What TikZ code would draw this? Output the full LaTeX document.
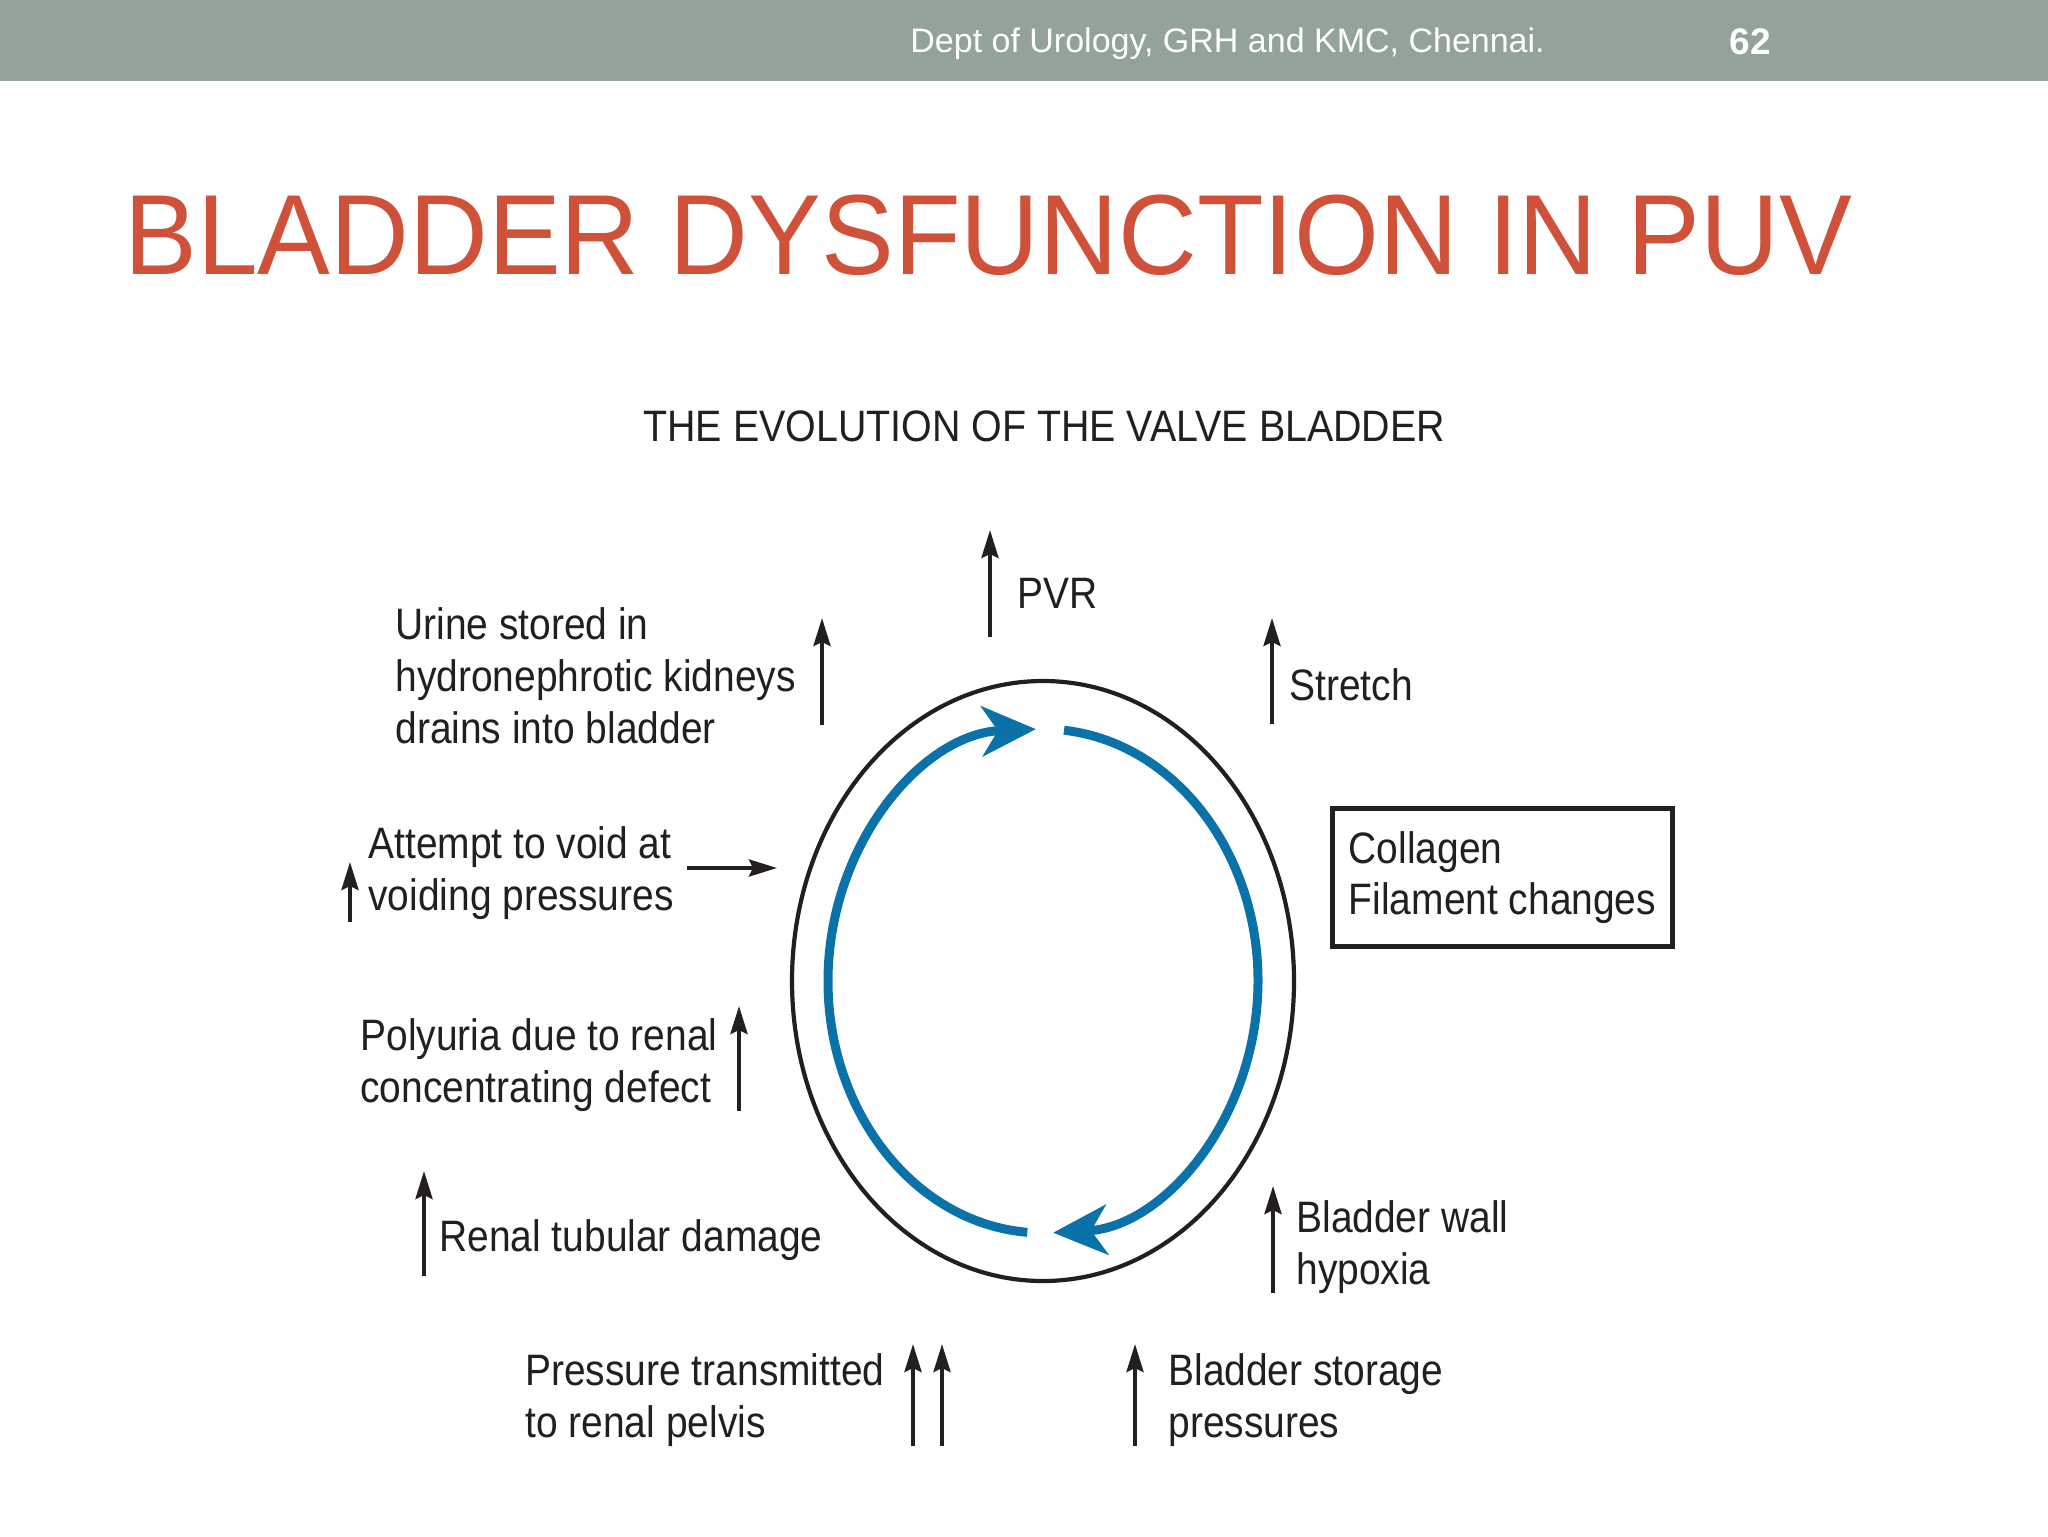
\documentclass[tikz,border=0pt]{standalone}
\usepackage{fontspec}
\setmainfont{Liberation Sans}
\newfontfamily\condfont[FakeStretch=0.885]{Liberation Sans}
\newfontfamily\subfont[FakeStretch=0.895]{Liberation Sans}
\newfontfamily\titlefont[FakeStretch=0.957]{Liberation Sans}
\usetikzlibrary{arrows.meta}
\definecolor{band}{HTML}{93A39A}
\definecolor{titlered}{HTML}{D0513A}
\definecolor{cycleblue}{HTML}{0A72A8}
\definecolor{ink}{HTML}{231F20}
\begin{document}
\begin{tikzpicture}[x=0.5pt,y=-0.5pt,
  lbl/.style={anchor=base west, inner sep=0pt, align=left, text=ink,
    font=\condfont\fontsize{22pt}{25.85pt}\selectfont},
  uparr/.style={draw=ink, line width=2pt, -{Stealth[length=14pt,width=8.5pt,inset=2pt]}},
  bluearc/.style={draw=cycleblue, line width=4.5pt, -{Stealth[length=27pt,width=25pt,inset=8pt]}},
  framebox/.style={draw=ink, line width=2.5pt, anchor=north west, inner sep=0pt,
    minimum width=170pt, minimum height=69pt, align=left, text=ink,
    font=\condfont\fontsize{22pt}{25.85pt}\selectfont},
]
\useasboundingbox (0,0) rectangle (2048,1536);
\fill[white] (0,0) rectangle (2048,1536);
\fill[band] (0,0) rectangle (2048,81);
\node[anchor=base west, inner sep=0pt, text=white, font=\fontsize{17pt}{20pt}\selectfont] (hdr) at (910,53) {Dept of Urology, GRH and KMC, Chennai.};
\node[anchor=base west, inner sep=0pt, text=white, font=\bfseries\fontsize{18.5pt}{22pt}\selectfont] (pg) at (1729,55) {62};
\node[anchor=base west, inner sep=0pt, text=titlered, font=\titlefont\fontsize{57pt}{60pt}\selectfont] (title) at (124,274) {BLADDER DYSFUNCTION IN PUV};
\node[lbl, font=\subfont\fontsize{22pt}{25.85pt}\selectfont] (sub) at (643,441) {THE EVOLUTION OF THE VALVE BLADDER};

% cycle
\coordinate (c) at (1043,981);
\draw[ink, line width=2.1pt] (c) ellipse [x radius=251, y radius=300];
\draw[bluearc] ([shift={(94.2:215 and 252)}]c) arc[start angle=94.2, end angle=268.1, x radius=215, y radius=252];
\draw[bluearc] ([shift={(-84.4:215 and 252)}]c) arc[start angle=-84.4, end angle=87.3, x radius=215, y radius=252];

% labels (multi-line nodes anchored at the baseline of their last line)
\node[lbl] (pvr) at (1017,608) {PVR};
\node[lbl] (urine) at (395,743) {Urine stored in\\hydronephrotic kidneys\\drains into bladder};
\node[lbl] (stretch) at (1289,700) {Stretch};
\node[framebox] (coll) at (1330,806) {Collagen\\Filament changes};
\node[lbl] (attempt) at (368,910) {Attempt to void at\\voiding pressures};
\node[lbl] (poly) at (360,1102) {Polyuria due to renal\\concentrating defect};
\node[lbl] (tub) at (439,1251) {Renal tubular damage};
\node[lbl] (press) at (525,1437) {Pressure transmitted\\to renal pelvis};
\node[lbl] (stor) at (1168,1437) {Bladder storage\\pressures};
\node[lbl] (wall) at (1296,1284) {Bladder wall\\hypoxia};

% arrows
\coordinate (pvrB) at (990,637);   \coordinate (pvrT) at (990,530);
\coordinate (urB) at (822,725);    \coordinate (urT) at (822,618);
\coordinate (stB) at (1272,724);   \coordinate (stT) at (1272,618);
\coordinate (atB) at (350,922);    \coordinate (atT) at (350,862);
\coordinate (atL) at (687,868);    \coordinate (atR) at (777,868);
\coordinate (poB) at (739,1111);   \coordinate (poT) at (739,1006);
\coordinate (tuB) at (424,1276);   \coordinate (tuT) at (424,1171);
\coordinate (p1B) at (913,1446);   \coordinate (p1T) at (913,1344);
\coordinate (p2B) at (942,1446);   \coordinate (p2T) at (942,1344);
\coordinate (bsB) at (1135,1446);  \coordinate (bsT) at (1135,1344);
\coordinate (bwB) at (1273,1293);  \coordinate (bwT) at (1273,1186);
\draw[uparr] (pvrB) -- (pvrT);
\draw[uparr] (urB) -- (urT);
\draw[uparr] (stB) -- (stT);
\draw[uparr] (atB) -- (atT);
\draw[uparr] (atL) -- (atR);
\draw[uparr] (poB) -- (poT);
\draw[uparr] (tuB) -- (tuT);
\draw[uparr] (p1B) -- (p1T);
\draw[uparr] (p2B) -- (p2T);
\draw[uparr] (bsB) -- (bsT);
\draw[uparr] (bwB) -- (bwT);
\end{tikzpicture}
\end{document}
